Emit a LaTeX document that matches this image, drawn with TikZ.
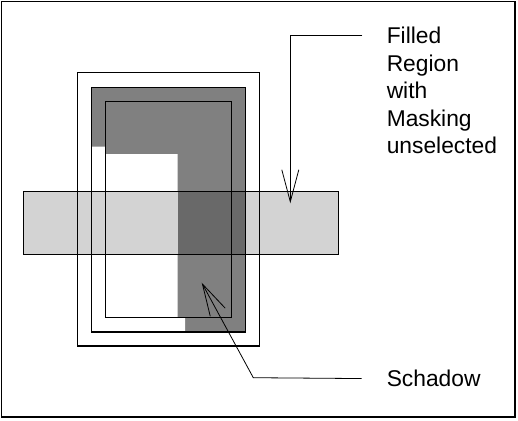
\documentclass[tikz,border=0pt]{standalone}
\usepackage{fontspec}
\setmainfont{Liberation Sans}
\usetikzlibrary{arrows.meta}
\definecolor{bandgray}{HTML}{D3D3D3}
\definecolor{shadegray}{HTML}{808080}
\definecolor{overlapgray}{HTML}{696969}

\begin{document}
\begin{tikzpicture}[x=1pt, y=-1pt, line width=1.5pt,
   leader/.style={line width=0.8pt, -{Straight Barb[length=32pt, width=17pt, line width=0.8pt]}},
   note/.style={inner sep=0pt, font=\fontsize{22.8}{27.5}\selectfont, align=left}]
   \useasboundingbox (0,0) rectangle (518,420);
   \draw (1.5,1.5) rectangle (515,417);
   % filled region with its shadow
   \fill[color=shadegray] (91.7,87.3) rectangle (245.3,332);
   \fill[color=white] (91.7,146.7) -- (105.3,146.7) -- (105.3,154) -- (177.7,154)
      -- (177.7,317.7) -- (185,317.7) -- (185,332) -- (91.7,332) -- cycle;
   \fill[color=bandgray] (23.3,191.7) rectangle (338.3,254.3);
   \fill[color=overlapgray] (177.7,191.7) rectangle (245.3,254.3);
   % outlines
   \draw (77.7,72.3) rectangle (259.3,346);
   \draw (91.7,87.3) rectangle (245.3,332);
   \draw (105.3,101.7) rectangle (231.7,317.7);
   \draw (23.3,191.7) rectangle (338.3,254.3);
   % labels
   \node[note, anchor=north west] (fillnote) at (386,26.5) {Filled\\Region\\with\\Masking\\unselected};
   \node[note, anchor=base west] (shadownote) at (386,386.7) {Schadow};
   \coordinate (fillbend) at (290.3,35);
   \coordinate (filltip) at (290.3,203.3);
   \coordinate (shadowbend) at (253.3,377.7);
   \coordinate (shadowtip) at (201.7,282.7);
   \draw[leader] ([xshift=-23.7pt]fillnote.north west |- fillbend) -- (fillbend) -- (filltip);
   \draw[leader] ([xshift=-24.3pt]shadownote.west) -- (shadowbend) -- (shadowtip);
\end{tikzpicture}
\end{document}
